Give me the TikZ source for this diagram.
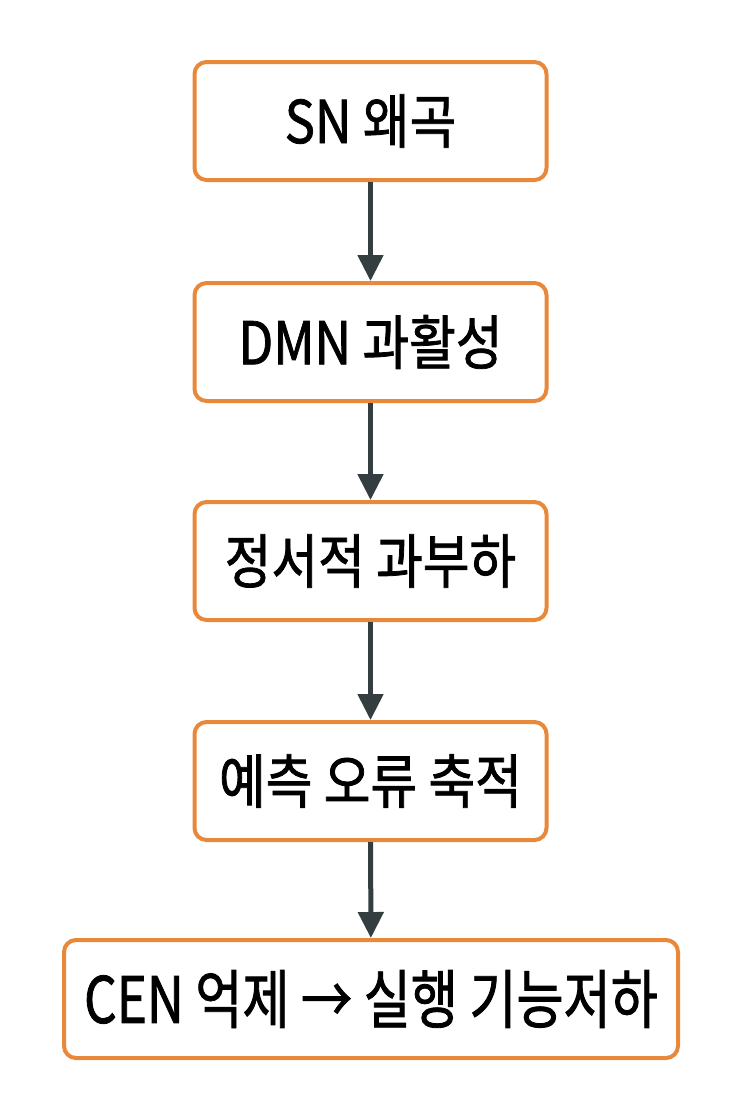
\documentclass[tikz,border=0pt]{standalone}
\usepackage{fontspec}
\usepackage{tikz}
\usetikzlibrary{arrows.meta, positioning}
\newfontfamily\krfont[FakeStretch=0.86, FakeBold=1.3]{Noto Sans CJK KR}
\newfontfamily\krwide[FakeStretch=0.8, FakeBold=1.3]{Noto Sans CJK KR}
\definecolor{boxorange}{RGB}{232, 136, 58}
\definecolor{arrowgray}{RGB}{52, 62, 65}
\tikzset{
  stagebox/.style  = {rectangle, rounded corners=6pt, draw=boxorange, line width=2pt, fill=white, minimum width=176pt, minimum height=59pt, inner sep=0pt, align=center, font=\krfont\fontsize{29.5pt}{34pt}\selectfont},
  stagewide/.style = {stagebox, minimum width=307pt, font=\krwide\fontsize{32pt}{36pt}\selectfont},
  flow/.style      = {-{Triangle[width=12.5pt, length=13pt]}, line width=2.5pt, arrowgray},
}
\begin{document}
\begin{tikzpicture}[x=0.5pt, y=-0.5pt]

% 배경 (그림 크기 고정)
\useasboundingbox (0,0) rectangle (743,1115);
\fill[white] (0,0) rectangle (743,1115);

% === 단계 상자 ===
\node[stagebox]  (sn)   at (370.5,121) {SN 왜곡};
\node[stagebox]  (dmn)  at (370.5,342) {DMN 과활성};
\node[stagebox]  (emo)  at (370.5,561) {정서적 과부하};
\node[stagebox]  (pred) at (370.5,781) {예측 오류 축적};
\node[stagewide] (cen)  at (371,999)   {CEN 억제 → 실행 기능저하};

% === 화살표 ===
\draw[flow] (sn)   -- (dmn);
\draw[flow] (dmn)  -- (emo);
\draw[flow] (emo)  -- (pred);
\draw[flow] (pred) -- (cen);

\end{tikzpicture}
\end{document}
